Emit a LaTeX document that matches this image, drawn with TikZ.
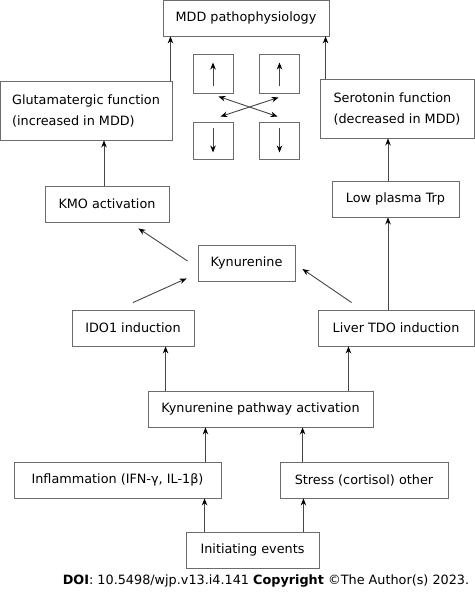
\documentclass[tikz,border=0pt]{standalone}
\usepackage{fontspec}
\setmainfont{DejaVu Sans}
\usetikzlibrary{arrows.meta}

\begin{document}
\begin{tikzpicture}[x=1pt,y=-1pt,font=\fontsize{12.8}{21}\selectfont]
	\tikzstyle{item}
	  =[draw=gray!85!black, line width=0.9pt, rectangle, inner sep=0pt,
	  minimum height=36pt, align=left]
	\tikzstyle{sign}
	  =[draw=gray!85!black, line width=0.9pt, rectangle, inner sep=0pt,
	  minimum width=40pt]
	\tikzstyle{arr}
	  =[draw=gray!55!black, line width=0.9pt, -{Stealth[length=7pt,width=5.5pt,black]}]
	\tikzstyle{twoway}
	  =[draw=gray!55!black, line width=0.9pt, {Stealth[length=7pt,width=5.5pt,black]}-{Stealth[length=7pt,width=5.5pt,black]}]

	\useasboundingbox (0,0) rectangle (474,596);

	\node[item, minimum width=166pt] (mdd)
	  at (246,18) {MDD pathophysiology};
	\node[item, minimum width=172pt, minimum height=59pt] (glut)
	  at (86,110.5) {Glutamatergic function\\(increased in MDD)};
	\node[item, minimum width=154pt, minimum height=59pt] (sero)
	  at (397,108.5) {Serotonin function\\(decreased in MDD)};

	\node[sign, minimum height=39pt] (upA)
	  at (213,73.5) {};
	\node[sign, minimum height=39pt] (upB)
	  at (279.5,73.5) {};
	\node[sign, minimum height=37pt] (dnA)
	  at (213,140.5) {};
	\node[sign, minimum height=37pt] (dnB)
	  at (279.5,140.5) {};

	\node[item, minimum width=124pt] (kmo)
	  at (107,204) {KMO activation};
	\node[item, minimum width=127pt] (trp)
	  at (395.5,199) {Low plasma Trp};
	\node[item, minimum width=97pt] (kyn)
	  at (246.5,263) {Kynurenine};
	\node[item, minimum width=122pt] (ido)
	  at (133,328) {IDO1 induction};
	\node[item, minimum width=156pt] (tdo)
	  at (396,328) {Liver TDO induction};
	\node[item, minimum width=225pt] (kpa)
	  at (260.5,409) {Kynurenine pathway activation};
	\node[item, minimum width=207pt] (infl)
	  at (117.5,480) {Inflammation (IFN-γ, IL-1β)};
	\node[item, minimum width=168pt] (stress)
	  at (364,480) {Stress (cortisol) other};
	\node[item, minimum width=133pt] (init)
	  at (252.5,550) {Initiating events};

	\node[] (doi)
	  at (266,581) {\textbf{DOI}: 10.5498/wjp.v13.i4.141 \textbf{Copyright} ©The Author(s) 2023.};

	% up and down signs
	\draw[arr] ([yshift=7pt]upA.south) -- ([yshift=-9pt]upA.north);
	\draw[arr] ([yshift=7pt]upB.south) -- ([yshift=-9pt]upB.north);
	\draw[arr] ([yshift=-6pt]dnA.north) -- ([yshift=7pt]dnA.south);
	\draw[arr] ([yshift=-6pt]dnB.north) -- ([yshift=7pt]dnB.south);
	\draw[twoway] ([xshift=-15pt,yshift=-3pt]upA.south east) -- ([xshift=18.5pt,yshift=5pt]dnB.north west);
	\draw[twoway] ([xshift=19.5pt,yshift=-4pt]upB.south west) -- ([xshift=-13pt,yshift=5pt]dnA.north east);

	% upper part
	\draw[arr] ([xshift=-2pt]glut.north east) -- ([xshift=-2pt]glut.north east |- mdd.south);
	\draw[arr] ([xshift=6pt]sero.north west) -- ([xshift=6pt]sero.north west |- mdd.south);
	\draw[arr] ([xshift=-3pt]kmo.north) -- ([xshift=-3pt]kmo.north |- glut.south);
	\draw[arr] ([xshift=-7.5pt]trp.north) -- ([xshift=-7.5pt]trp.north |- sero.south);
	\draw[arr] ([xshift=-8pt]tdo.north) -- ([xshift=-8pt]tdo.north |- trp.south);

	% kynurenine
	\draw[arr] ([xshift=-10pt,yshift=2pt]kyn.west) -- ([xshift=-31pt,yshift=-6pt]kmo.south east);
	\draw[arr] ([yshift=7pt]ido.north) -- ([xshift=-11pt,yshift=3pt]kyn.south west);
	\draw[arr] ([xshift=34pt,yshift=7pt]tdo.north west) -- ([xshift=7pt,yshift=-6pt]kyn.east);

	% lower part
	\draw[arr] ([xshift=18pt]kpa.north west) -- ([xshift=18pt]kpa.north west |- ido.south);
	\draw[arr] ([xshift=-25pt]kpa.north east) -- ([xshift=-25pt]kpa.north east |- tdo.south);
	\draw[arr] ([xshift=-16pt]infl.north east) -- ([xshift=-16pt]infl.north east |- kpa.south);
	\draw[arr] ([xshift=23pt]stress.north west) -- ([xshift=23pt]stress.north west |- kpa.south);
	\draw[arr] ([xshift=19pt]init.north west) -- ([xshift=19pt]init.north west |- infl.south);
	\draw[arr] ([xshift=-16pt]init.north east) -- ([xshift=-16pt]init.north east |- stress.south);
\end{tikzpicture}
\end{document}
